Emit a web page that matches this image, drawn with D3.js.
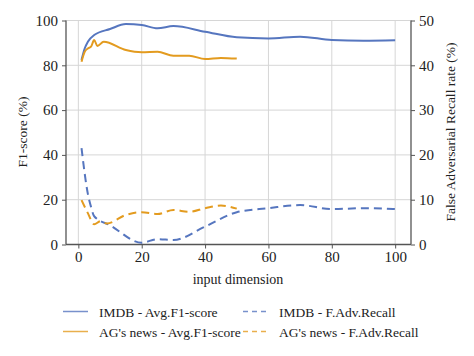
<!DOCTYPE html>
<html><head><meta charset="utf-8">
<script src="https://cdn.jsdelivr.net/npm/d3@7"></script>
<style>body{margin:0;background:#fff}svg{display:block}text{font-family:"Liberation Serif","DejaVu Serif",serif;fill:#222}</style>
</head><body><svg id="c" width="474" height="356"></svg>
<script>
const imdbF1X = [1,2,3,5,10,15,20,25,30,40,50,60,70,80,90,100];
const imdbF1 = [82.4,87.5,90.5,93.5,96.2,98.4,98,96.5,97.5,95,92.5,92,92.8,91.3,91,91.2];
const agF1X = [1,2,3,4,5,6,8,15,20,25,30,35,40,45,50];
const agF1 = [81.6,86,87.5,88.3,91.3,88.6,90.5,86.8,85.8,86,84.3,84.3,82.8,83.3,83];
const imdbRecX = [1,3,4,5,10,20,25,30,40,50,60,70,80,90,100];
const imdbRec = [21.5,11.3,8.4,6.3,4.3,0.4,1.2,1.0,4.0,7.2,8.1,8.8,7.9,8.1,7.9];
const agRecX = [1,3,5,7,9,15,20,25,30,35,40,45,50];
const agRec = [9.9,7,4.5,5.2,4.7,6.6,7.2,6.8,7.7,7.3,8.1,8.7,8];
const xTicks = [0,20,40,60,80,100];
const leftTicks = [0,20,40,60,80,100];
const rightTicks = [0,10,20,30,40,50];
const legendLabels = ["IMDB - Avg.F1-score","IMDB - F.Adv.Recall","AG's news - Avg.F1-score","AG's news - F.Adv.Recall"];
const blue = "#5676bf", orange = "#e39b1f";

const svg = d3.select("#c");
const L = 66, R = 411, T = 20.5, B = 244.5;
const x = d3.scaleLinear().domain([-3.9, 105]).range([L, R]);
const yl = d3.scaleLinear().domain([0, 100]).range([B, T]);
const yr = d3.scaleLinear().domain([0, 50]).range([B, T]);

// grid
svg.append("g").selectAll("line").data(xTicks).join("line")
  .attr("x1", d => x(d)).attr("x2", d => x(d)).attr("y1", T).attr("y2", B)
  .attr("stroke", "#d6d6d6").attr("stroke-width", 1);
svg.append("g").selectAll("line").data(leftTicks.filter(d => d > 0)).join("line")
  .attr("x1", L).attr("x2", R).attr("y1", d => yl(d)).attr("y2", d => yl(d))
  .attr("stroke", "#d6d6d6").attr("stroke-width", 1);

// axes
const ax = d3.axisBottom(x).tickValues(xTicks).tickSize(4).tickPadding(3);
const gx = svg.append("g").attr("transform", `translate(0,${B})`).call(ax);
const gl = svg.append("g").attr("transform", `translate(${L},0)`).call(d3.axisLeft(yl).tickValues(leftTicks).tickSize(4).tickPadding(4));
const gr = svg.append("g").attr("transform", `translate(${R},0)`).call(d3.axisRight(yr).tickValues(rightTicks).tickSize(4).tickPadding(4));
[gx, gl, gr].forEach(g => {
  g.select(".domain").attr("stroke", "#555").attr("stroke-width", 1.3);
  g.selectAll(".tick line").attr("stroke", "#555");
  g.selectAll(".tick text").attr("font-size", 15).attr("font-family", '"Liberation Serif",serif').attr("fill", "#222");
});
gx.select(".domain").attr("d", `M${L},0H${R}`);
gl.select(".domain").attr("d", `M0,${T}V${B}`);
gr.select(".domain").attr("d", `M0,${T}V${B}`);

// lines
const lineL = d3.line().x(d => x(d[0])).y(d => yl(d[1])).curve(d3.curveMonotoneX);
const lineR = d3.line().x(d => x(d[0])).y(d => yr(d[1])).curve(d3.curveMonotoneX);
function draw(xs, ys, gen, color, dash) {
  svg.append("path").datum(d3.zip(xs, ys)).attr("d", gen)
    .attr("fill", "none").attr("stroke", color).attr("stroke-width", 2)
    .attr("stroke-dasharray", dash ? "8,5" : null);
}
draw(imdbF1X, imdbF1, lineL, blue, false);
draw(agF1X, agF1, lineL, orange, false);
draw(imdbRecX, imdbRec, lineR, blue, true);
draw(agRecX, agRec, lineR, orange, true);

// axis titles
svg.append("text").attr("x", 238).attr("y", 284).attr("text-anchor", "middle").attr("font-size", 14).text("input dimension");
svg.append("text").attr("transform", "translate(27,132) rotate(-90)").attr("text-anchor", "middle").attr("font-size", 13.5).text("F1-score (%)");
svg.append("text").attr("transform", "translate(455,132) rotate(-90)").attr("text-anchor", "middle").attr("font-size", 13.5).text("False Adversarial Recall rate (%)");

// legend
const legPos = [[63, 312], [243, 312], [63, 332], [243, 332]];
const legColor = [blue, blue, orange, orange];
const legDash = [false, true, false, true];
legendLabels.forEach((lab, i) => {
  const [lx, ly] = legPos[i];
  svg.append("line").attr("x1", lx).attr("x2", lx + 25).attr("y1", ly - 0.5).attr("y2", ly - 0.5)
    .attr("stroke", legColor[i]).attr("stroke-width", 1.5).attr("stroke-opacity", 0.8)
    .attr("stroke-dasharray", legDash[i] ? "5,4" : null);
  svg.append("text").attr("x", lx + 36).attr("y", ly + 4.5).attr("font-size", 13.5).text(lab);
});
</script></body></html>
